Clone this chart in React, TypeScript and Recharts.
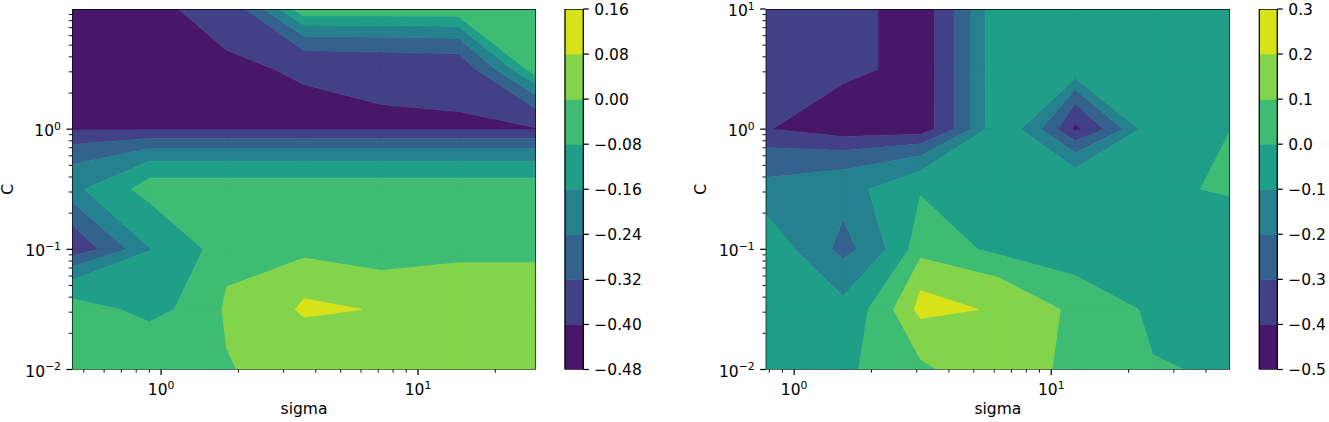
import { ScatterChart, Scatter, XAxis, YAxis } from 'recharts'

const FONT = 'DejaVu Sans'
const FS = 15.5
const H = 422
const TOP = 9
const BOTTOM = 369.5

// grid: sigma along x, C along y
const leftSigma = [0.45, 0.9, 1.8, 3.6, 7.2, 14.4, 28.8]
const rightSigma = [0.775, 1.55, 3.1, 6.2, 12.4, 24.8, 49.6]
const gridC = [0.01, 0.03162, 0.1, 0.3162, 1, 3.162, 10]

// scores: one row per C (lowest C first), one column per sigma
const leftScores = [
  [-0.04, -0.015, -0.003, 0.03, 0.05, 0.05, 0.05],
  [-0.045, -0.11, 0.01, 0.0926, 0.074, 0.06, 0.06],
  [-0.378, -0.162, -0.03, -0.027, -0.07, -0.03, -0.03],
  [-0.176, -0.04, -0.04, -0.04, -0.04, -0.04, -0.04],
  [-0.405, -0.405, -0.405, -0.405, -0.405, -0.405, -0.405],
  [-0.42, -0.415, -0.4033, -0.397, -0.387, -0.378, -0.02],
  [-0.45, -0.4055, -0.387, -0.01, -0.01, -0.009, -0.02],
]
const rightScores = [
  [-0.05, -0.015, 0.085, 0.18, 0.052, 0.004, -0.0084],
  [-0.06, -0.079, 0.235, 0.184, 0.072, -0.022, -0.04],
  [-0.041, -0.239, 0.06, -0.0296, -0.098, -0.06, -0.056],
  [-0.174, -0.13, -0.013, -0.03, -0.005, -0.0138, 0.012],
  [-0.396, -0.465, -0.46, -0.005, -0.422, -0.005, -0.0006],
  [-0.35, -0.364, -0.462, -0.002, -0.005, -0.03, -0.02],
  [-0.35, -0.364, -0.462, -0.002, -0.03, -0.03, -0.03],
]

const leftLevels = [-0.48, -0.4, -0.32, -0.24, -0.16, -0.08, 0, 0.08, 0.16]
const rightLevels = [-0.5, -0.4, -0.3, -0.2, -0.1, 0, 0.1, 0.2, 0.3]
const bandColors = ['#481769', '#424086', '#33628d', '#26818e', '#1f9f88', '#3fbc73', '#84d44b', '#d8e219']

const leftXTicks = [0.5, 0.6, 0.7, 0.8, 0.9, 1, 2, 3, 4, 5, 6, 7, 8, 9, 10, 20]
const rightXTicks = [0.8, 0.9, 1, 2, 3, 4, 5, 6, 7, 8, 9, 10, 20, 30, 40]
const leftYTicks = [0.01, 0.02, 0.03, 0.04, 0.05, 0.06, 0.07, 0.08, 0.09, 0.1, 0.2, 0.3, 0.4, 0.5, 0.6, 0.7, 0.8, 0.9, 1, 2, 3, 4, 5, 6, 7, 8, 9]
const rightYTicks = [...leftYTicks, 10]

type V = { x: number; y: number; z: number }

// clip a polygon against z >= level (above) or z <= level, linear along edges
function clip(poly: V[], level: number, above: boolean) {
  const out: V[] = []
  const inside = (v: V) => (above ? v.z >= level : v.z <= level)
  for (let i = 0; i < poly.length; i++) {
    const a = poly[i]
    const b = poly[(i + 1) % poly.length]
    const ia = inside(a)
    if (ia) out.push(a)
    if (ia !== inside(b)) {
      const t = (level - a.z) / (b.z - a.z)
      out.push({ x: a.x + t * (b.x - a.x), y: a.y + t * (b.y - a.y), z: level })
    }
  }
  return out
}

function contourBands(xs: number[], ys: number[], z: number[][], levels: number[]) {
  const bands = levels.slice(0, -1).map(() => ({ pts: [] as { x: number; y: number }[], sizes: [] as number[] }))
  for (let j = 0; j < ys.length - 1; j++) {
    for (let i = 0; i < xs.length - 1; i++) {
      const quad: V[] = [
        { x: xs[i], y: ys[j], z: z[j][i] },
        { x: xs[i + 1], y: ys[j], z: z[j][i + 1] },
        { x: xs[i + 1], y: ys[j + 1], z: z[j + 1][i + 1] },
        { x: xs[i], y: ys[j + 1], z: z[j + 1][i] },
      ]
      for (let b = 0; b < bands.length; b++) {
        let poly = quad
        if (b > 0) poly = clip(poly, levels[b], true)
        if (b < bands.length - 1) poly = clip(poly, levels[b + 1], false)
        if (poly.length >= 3) {
          poly.forEach((p) => bands[b].pts.push({ x: p.x, y: p.y }))
          bands[b].sizes.push(poly.length)
        }
      }
    }
  }
  return bands
}

const noDot = () => <g />

const polyLine = (sizes: number[], color: string) => (props: any) => {
  const pts = props.points || []
  let d = ''
  let k = 0
  sizes.forEach((n) => {
    pts.slice(k, k + n).forEach((p: any, i: number) => {
      d += `${i ? 'L' : 'M'}${p.x},${p.y}`
    })
    d += 'Z'
    k += n
  })
  return <path d={d} fill={color} stroke={color} strokeWidth={0.6} strokeLinejoin="round" />
}

const frameLine = (props: any) => {
  const pts = props.points || []
  const d = pts.map((p: any, i: number) => `${i ? 'L' : 'M'}${p.x},${p.y}`).join('') + 'Z'
  return <path d={d} fill="none" stroke="#000" strokeWidth={1.25} />
}

const isMajor = (v: number) => Math.abs(Math.log10(v) - Math.round(Math.log10(v))) < 1e-6
const expText = (v: number) => {
  const e = Math.round(Math.log10(v))
  return e < 0 ? '\u2212' + Math.abs(e) : String(e)
}

function XTick(props: any) {
  const { x, y, payload } = props
  const major = isMajor(payload.value)
  return (
    <g>
      <line x1={x} x2={x} y1={y} y2={y + (major ? 5.5 : 3.2)} stroke="#000" strokeWidth={major ? 1.25 : 0.95} />
      {major && (
        <text x={x} y={y + 25.5} textAnchor="middle" fontFamily={FONT} fontSize={FS} fill="#000">
          10<tspan dy={-6.3} fontSize={FS * 0.7}>{expText(payload.value)}</tspan>
        </text>
      )}
    </g>
  )
}

function YTick(props: any) {
  const { x, y, payload } = props
  const major = isMajor(payload.value)
  return (
    <g>
      <line x1={x} x2={x - (major ? 5.5 : 3.2)} y1={y} y2={y} stroke="#000" strokeWidth={major ? 1.25 : 0.95} />
      {major && (
        <text x={x - 11} y={y + 7} textAnchor="end" fontFamily={FONT} fontSize={FS} fill="#000">
          10<tspan dy={-6.3} fontSize={FS * 0.7}>{expText(payload.value)}</tspan>
        </text>
      )}
    </g>
  )
}

function BarTick(props: any) {
  const { x, y, payload, digits } = props
  const label = Number(payload.value).toFixed(digits).replace('-', '\u2212')
  return (
    <g>
      <line x1={x} x2={x + 5.5} y1={y} y2={y} stroke="#000" strokeWidth={1.25} />
      <text x={x + 11} y={y + FS * 0.36} fontFamily={FONT} fontSize={FS} fill="#000">
        {label}
      </text>
    </g>
  )
}

const SigmaTitle = (props: any) => {
  const vb = props.viewBox
  return (
    <text x={vb.x + vb.width / 2} y={vb.y + 44.5} textAnchor="middle" fontFamily={FONT} fontSize={FS} fill="#000">
      sigma
    </text>
  )
}

const CTitle = (props: any) => {
  const vb = props.viewBox
  const cx = vb.x + vb.width - 64.5
  const cy = vb.y + vb.height / 2
  return (
    <text x={cx} y={cy} transform={`rotate(-90, ${cx}, ${cy})`} textAnchor="middle" dominantBaseline="central" fontFamily={FONT} fontSize={FS} fill="#000">
      C
    </text>
  )
}

interface PanelProps {
  x0: number
  width: number
  axisWidth: number
  marginRight: number
  sigma: number[]
  scores: number[][]
  levels: number[]
  xTicks: number[]
  yTicks: number[]
}

function ContourPanel({ x0, width, axisWidth, marginRight, sigma, scores, levels, xTicks, yTicks }: PanelProps) {
  const bands = contourBands(sigma, gridC, scores, levels)
  const sMin = sigma[0]
  const sMax = sigma[sigma.length - 1]
  const cMin = gridC[0]
  const cMax = gridC[gridC.length - 1]
  const frame = [
    { x: sMin, y: cMin },
    { x: sMax, y: cMin },
    { x: sMax, y: cMax },
    { x: sMin, y: cMax },
  ]
  return (
    <div style={{ position: 'absolute', left: x0, top: 0 }}>
      <ScatterChart width={width} height={H} margin={{ top: TOP, right: marginRight, bottom: 0, left: 0 }}>
        <XAxis
          type="number"
          dataKey="x"
          scale="log"
          domain={[sMin, sMax]}
          allowDataOverflow
          ticks={xTicks}
          interval={0}
          tick={<XTick />}
          tickLine={false}
          axisLine={false}
          tickSize={0}
          tickMargin={0}
          height={H - BOTTOM}
          label={{ content: SigmaTitle }}
        />
        <YAxis
          type="number"
          dataKey="y"
          scale="log"
          domain={[cMin, cMax]}
          allowDataOverflow
          ticks={yTicks}
          interval={0}
          tick={<YTick />}
          tickLine={false}
          axisLine={false}
          tickSize={0}
          tickMargin={0}
          width={axisWidth}
          label={{ content: CTitle }}
        />
        {bands.map((b, k) =>
          b.sizes.length ? (
            <Scatter key={k} data={b.pts} isAnimationActive={false} shape={noDot} line={polyLine(b.sizes, bandColors[k])} />
          ) : null
        )}
        <Scatter data={frame} isAnimationActive={false} shape={noDot} line={frameLine} />
      </ScatterChart>
    </div>
  )
}

interface BarProps {
  x0: number
  width: number
  barLeft: number
  barWidth: number
  levels: number[]
  digits: number
}

function ColorBar({ x0, width, barLeft, barWidth, levels, digits }: BarProps) {
  const lo = levels[0]
  const hi = levels[levels.length - 1]
  const frame = [
    { x: 0, y: lo },
    { x: 1, y: lo },
    { x: 1, y: hi },
    { x: 0, y: hi },
  ]
  return (
    <div style={{ position: 'absolute', left: x0, top: 0 }}>
      <ScatterChart width={width} height={H} margin={{ top: TOP, right: 0, bottom: H - BOTTOM, left: barLeft }}>
        <XAxis type="number" dataKey="x" domain={[0, 1]} hide />
        <YAxis
          type="number"
          dataKey="y"
          orientation="right"
          domain={[lo, hi]}
          allowDataOverflow
          ticks={levels}
          interval={0}
          width={width - barLeft - barWidth}
          tick={<BarTick digits={digits} />}
          tickLine={false}
          axisLine={false}
          tickSize={0}
          tickMargin={0}
        />
        {levels.slice(0, -1).map((v, i) => (
          <Scatter
            key={i}
            data={[
              { x: 0, y: v },
              { x: 1, y: v },
              { x: 1, y: levels[i + 1] },
              { x: 0, y: levels[i + 1] },
            ]}
            isAnimationActive={false}
            shape={noDot}
            line={polyLine([4], bandColors[i])}
          />
        ))}
        <Scatter data={frame} isAnimationActive={false} shape={noDot} line={frameLine} />
      </ScatterChart>
    </div>
  )
}

export default function App() {
  return (
    <div style={{ position: 'absolute', left: 0, top: 0, width: 1329, height: H, background: '#fff' }}>
      <ContourPanel
        x0={0}
        width={560}
        axisWidth={72}
        marginRight={24}
        sigma={leftSigma}
        scores={leftScores}
        levels={leftLevels}
        xTicks={leftXTicks}
        yTicks={leftYTicks}
      />
      <ColorBar x0={540} width={130} barLeft={25} barWidth={18.3} levels={leftLevels} digits={2} />
      <ContourPanel
        x0={690}
        width={550}
        axisWidth={75.7}
        marginRight={10}
        sigma={rightSigma}
        scores={rightScores}
        levels={rightLevels}
        xTicks={rightXTicks}
        yTicks={rightYTicks}
      />
      <ColorBar x0={1235} width={94} barLeft={24.3} barWidth={18} levels={rightLevels} digits={1} />
    </div>
  )
}
